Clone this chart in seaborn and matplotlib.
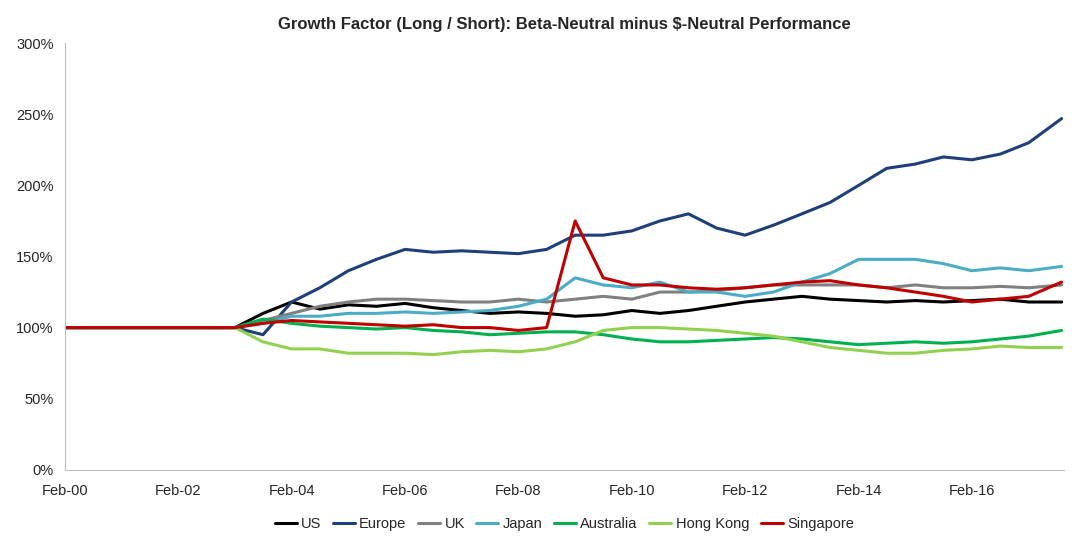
import matplotlib
matplotlib.use("Agg")
import matplotlib.pyplot as plt
import matplotlib.dates as mdates
import matplotlib.ticker as mt
import seaborn as sns
import pandas as pd

dates = ["2000-02-01","2002-12-01","2003-02-01","2003-08-01","2004-02-01","2004-08-01","2005-02-01","2005-08-01",
         "2006-02-01","2006-08-01","2007-02-01","2007-08-01","2008-02-01","2008-08-01","2009-02-01",
         "2009-08-01","2010-02-01","2010-08-01","2011-02-01","2011-08-01","2012-02-01","2012-08-01",
         "2013-02-01","2013-08-01","2014-02-01","2014-08-01","2015-02-01","2015-08-01","2016-02-01",
         "2016-08-01","2017-02-01","2017-09-01"]
us        = [100,100,100,110,118,113,116,115,117,114,112,110,111,110,108,109,112,110,112,115,118,120,122,120,119,118,119,118,119,120,118,118]
europe    = [100,100,100,95,118,128,140,148,155,153,154,153,152,155,165,165,168,175,180,170,165,172,180,188,200,212,215,220,218,222,230,247]
uk        = [100,100,100,105,110,115,118,120,120,119,118,118,120,118,120,122,120,125,125,126,128,130,130,130,130,128,130,128,128,129,128,130]
japan     = [100,100,100,103,108,108,110,110,111,110,111,112,115,120,135,130,128,132,125,125,122,125,132,138,148,148,148,145,140,142,140,143]
australia = [100,100,100,106,103,101,100,99,100,98,97,95,96,97,97,95,92,90,90,91,92,93,92,90,88,89,90,89,90,92,94,98]
hongkong  = [100,100,100,90,85,85,82,82,82,81,83,84,83,85,90,98,100,100,99,98,96,94,90,86,84,82,82,84,85,87,86,86]
singapore = [100,100,100,103,105,104,103,102,101,102,100,100,98,100,175,135,130,130,128,127,128,130,132,133,130,128,125,122,118,120,122,132]

series = {"US": us, "Europe": europe, "UK": uk, "Japan": japan,
          "Australia": australia, "Hong Kong": hongkong, "Singapore": singapore}
colors = {"US": "#000000", "Europe": "#1f3f7a", "UK": "#808080", "Japan": "#4bacc6",
          "Australia": "#00b050", "Hong Kong": "#92d050", "Singapore": "#c00000"}

df = pd.concat([pd.DataFrame({"date": pd.to_datetime(dates), "value": [v/100 for v in vals], "series": k})
                for k, vals in series.items()])

sns.set_style("white")
plt.rcParams['font.family'] = ['Liberation Sans', 'DejaVu Sans']
fig, ax = plt.subplots(figsize=(10.8, 5.4), dpi=100)
sns.lineplot(data=df, x="date", y="value", hue="series", palette=colors, linewidth=2.2, ax=ax)

ax.set_xlim(pd.Timestamp("2000-02-01"), pd.Timestamp("2017-09-15"))
ax.set_ylim(0, 3.0)
ax.yaxis.set_major_locator(mt.MultipleLocator(0.5))
ax.yaxis.set_major_formatter(mt.PercentFormatter(1.0, decimals=0))
ax.xaxis.set_major_locator(mdates.YearLocator(base=2, month=2, day=1))
ax.xaxis.set_major_formatter(mdates.DateFormatter("Feb-%y"))
ax.set_xlabel(""); ax.set_ylabel("")
ax.tick_params(labelsize=10.5, length=0)
ax.tick_params(axis="y", pad=8)
ax.tick_params(axis="x", pad=10)
for s in ["top", "right"]:
    ax.spines[s].set_visible(False)
for s in ["left", "bottom"]:
    ax.spines[s].set_color("#bfbfbf")
ax.set_title("Growth Factor (Long / Short): Beta-Neutral minus $-Neutral Performance",
             fontsize=12, fontweight="bold", pad=10)
ax.legend(loc="upper center", bbox_to_anchor=(0.5, -0.08), ncol=7, frameon=False,
          fontsize=10.5, handlelength=1.5, columnspacing=0.8, handletextpad=0.3)
plt.subplots_adjust(left=0.06, right=0.985, top=0.92, bottom=0.13)
fig.savefig("out.png")
